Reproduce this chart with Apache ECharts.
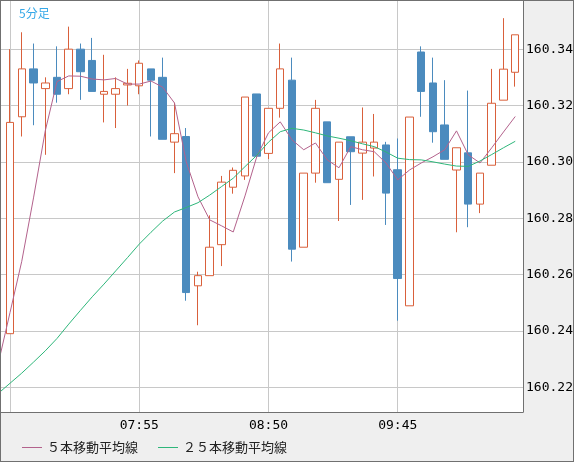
<!DOCTYPE html>
<html>
<head>
<meta charset="utf-8">
<script src="https://cdn.jsdelivr.net/npm/echarts@6/dist/echarts.min.js"></script>
<style>
  html, body { margin: 0; padding: 0; background: #fff; }
  #chart {
    width: 574px; height: 462px;
    box-sizing: border-box;
    border: 1px solid #707070;
    background: #efefef;
  }
</style>
</head>
<body>
<div id="chart"></div>
<script>
// 5-minute bars, first slot (06:55) only carries the moving averages
const times = [
  '06:55', '07:00', '07:05', '07:10', '07:15', '07:20', '07:25', '07:30', '07:35', '07:40', '07:45',
  '07:50', '07:55', '08:00', '08:05', '08:10', '08:15', '08:20', '08:25', '08:30', '08:35',
  '08:40', '08:45', '08:50', '08:55', '09:00', '09:05', '09:10', '09:15', '09:20', '09:25',
  '09:30', '09:35', '09:40', '09:45', '09:50', '09:55', '10:00', '10:05', '10:10', '10:15',
  '10:20', '10:25', '10:30', '10:35'
]
const opens = [
  null, 160.239, 160.316, 160.333, 160.326, 160.330, 160.326, 160.340, 160.336, 160.324, 160.324,
  160.3273, 160.327, 160.333, 160.330, 160.307, 160.309, 160.256, 160.2596, 160.2706, 160.291,
  160.295, 160.3241, 160.303, 160.319, 160.329, 160.2697, 160.296, 160.3142, 160.2938, 160.3089,
  160.3031, 160.3049, 160.306, 160.2972, 160.2489, 160.339, 160.328, 160.3131, 160.2971, 160.3032,
  160.285, 160.2988, 160.3219, 160.3318
]
const closes = [
  null, 160.314, 160.333, 160.328, 160.328, 160.324, 160.340, 160.332, 160.325, 160.325, 160.326,
  160.3279, 160.335, 160.329, 160.308, 160.310, 160.2536, 160.2596, 160.2697, 160.2928, 160.297,
  160.323, 160.302, 160.319, 160.333, 160.269, 160.296, 160.319, 160.2926, 160.307, 160.3036,
  160.307, 160.307, 160.2889, 160.2586, 160.3159, 160.325, 160.3107, 160.3009, 160.305, 160.285,
  160.296, 160.3208, 160.3329, 160.3451
]
const lows = [
  null, 160.239, 160.309, 160.313, 160.3025, 160.321, 160.324, 160.322, 160.325, 160.314, 160.312,
  160.320, 160.324, 160.309, 160.308, 160.296, 160.2507, 160.242, 160.2596, 160.263, 160.2887,
  160.2936, 160.302, 160.301, 160.3157, 160.2646, 160.2697, 160.2926, 160.2926, 160.279, 160.2847,
  160.2865, 160.2948, 160.2776, 160.2436, 160.2489, 160.316, 160.3068, 160.3009, 160.275, 160.2768,
  160.2818, 160.2988, 160.3219, 160.3267
]
const highs = [
  null, 160.340, 160.346, 160.342, 160.330, 160.341, 160.348, 160.342, 160.344, 160.338, 160.330,
  160.333, 160.336, 160.333, 160.337, 160.321, 160.312, 160.261, 160.281, 160.295, 160.298,
  160.323, 160.3241, 160.319, 160.342, 160.337, 160.296, 160.322, 160.3142, 160.307, 160.3089,
  160.3193, 160.317, 160.3071, 160.3083, 160.3159, 160.341, 160.337, 160.329, 160.305, 160.3253,
  160.296, 160.333, 160.351, 160.3451
]
const ma5 = [
  160.2284, 160.2465, 160.2647, 160.2872, 160.3110, 160.3285, 160.3305, 160.3304, 160.3294, 160.3291, 160.3296,
  160.3276, 160.3276, 160.3287, 160.3265, 160.3209, 160.3000, 160.2876, 160.2794, 160.2773, 160.2751,
  160.2879, 160.3018, 160.3103, 160.3142, 160.3078, 160.3043, 160.3067, 160.3007, 160.2979, 160.3054,
  160.3043, 160.3036, 160.2996, 160.2936, 160.2971, 160.2996, 160.3018, 160.3043, 160.3110, 160.3025,
  160.2996, 160.3050, 160.3106, 160.3161
]
const ma25 = [
  160.2178, 160.2214, 160.2250, 160.2289, 160.2329, 160.2373, 160.2424, 160.2473, 160.2521, 160.2566, 160.2613,
  160.2660, 160.2708, 160.2750, 160.2790, 160.2822, 160.2838, 160.2855, 160.2882, 160.2912, 160.2942,
  160.2983, 160.3023, 160.3070, 160.3107, 160.3119, 160.3113, 160.3103, 160.3092, 160.3084, 160.3075,
  160.3064, 160.3054, 160.3035, 160.3013, 160.3008, 160.3007, 160.3000, 160.2992, 160.2985, 160.2984,
  160.3003, 160.3026, 160.3050, 160.3073
]
const xGridTimes = ['07:00', '07:55', '08:50', '09:45']
const xLabelTimes = ['07:55', '08:50', '09:45']
const yTicks = [160.22, 160.24, 160.26, 160.28, 160.30, 160.32, 160.34]

const upColor = '#d9603b'
const downColor = '#4b8bbe'
const ma5Color = '#b3628c'
const ma25Color = '#2eb67a'
const monoFont = '"DejaVu Sans Mono", monospace'
const cjkFont = '"Noto Sans CJK JP", sans-serif'

const candleData = []
times.forEach((t, i) => {
  if (opens[i] == null) return
  candleData.push([i, opens[i], closes[i], lows[i], highs[i]])
})
const ma5Data = ma5.map((v, i) => [i, v])
const ma25Data = ma25.map((v, i) => [i, v])

const chart = echarts.init(document.getElementById('chart'))
chart.setOption({
  animation: false,
  title: {
    text: '5分足',
    left: 13,
    top: 1,
    textStyle: { fontFamily: cjkFont, fontSize: 12, fontWeight: 'normal', color: '#35a8e8' }
  },
  legend: {
    left: 16,
    top: 435,
    icon: 'rect',
    itemWidth: 20,
    itemHeight: 1,
    itemGap: 20,
    textStyle: { fontFamily: cjkFont, fontSize: 13, color: '#222' },
    data: ['５本移動平均線', '２５本移動平均線']
  },
  grid: {
    left: 0,
    top: 0,
    width: 522,
    height: 411,
    outerBoundsMode: 'none',
    containLabel: false,
    show: true,
    backgroundColor: '#fff',
    borderWidth: 0
  },
  xAxis: {
    type: 'value',
    min: 0.234,
    max: 44.66,
    axisLine: { show: true, onZero: false, lineStyle: { color: '#707070', width: 1 } },
    axisTick: { show: false, customValues: xGridTimes.map(t => times.indexOf(t)) },
    axisLabel: {
      customValues: xLabelTimes.map(t => times.indexOf(t)),
      formatter: v => times[Math.round(v)],
      margin: 7,
      fontFamily: monoFont,
      fontSize: 13,
      color: '#000'
    },
    splitLine: { show: true, lineStyle: { color: '#c8c8c8', width: 1 } }
  },
  yAxis: {
    type: 'value',
    position: 'right',
    scale: true,
    min: 160.2112,
    max: 160.3571,
    axisLine: { show: true, lineStyle: { color: '#707070', width: 1 } },
    axisTick: { show: false, customValues: yTicks },
    axisLabel: {
      customValues: yTicks,
      formatter: v => v.toFixed(2),
      margin: 3,
      fontFamily: monoFont,
      fontSize: 13,
      color: '#000'
    },
    splitLine: { show: true, lineStyle: { color: '#c8c8c8', width: 1 } }
  },
  series: [
    {
      type: 'candlestick',
      data: candleData,
      encode: { x: 0, y: [1, 2, 3, 4] },
      barWidth: 8,
      itemStyle: {
        color: '#ffffff',
        color0: downColor,
        borderColor: upColor,
        borderColor0: downColor,
        borderWidth: 1
      }
    },
    {
      name: '５本移動平均線',
      type: 'line',
      data: ma5Data,
      symbol: 'none',
      lineStyle: { color: ma5Color, width: 1 },
      itemStyle: { color: ma5Color }
    },
    {
      name: '２５本移動平均線',
      type: 'line',
      data: ma25Data,
      symbol: 'none',
      lineStyle: { color: ma25Color, width: 1 },
      itemStyle: { color: ma25Color }
    }
  ]
})
</script>
</body>
</html>
